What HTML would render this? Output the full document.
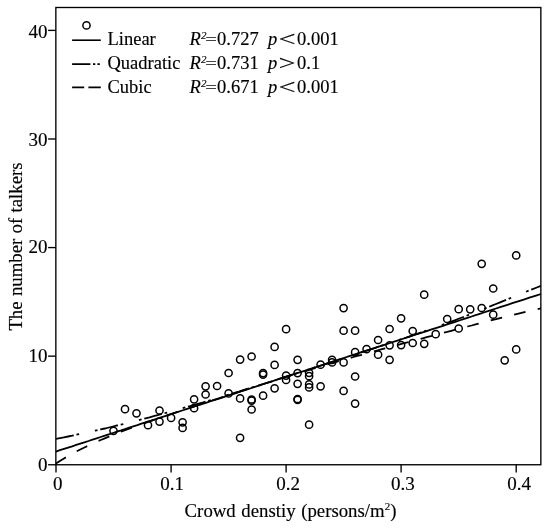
<!DOCTYPE html>
<html><head><meta charset="utf-8"><title>Crowd density vs talkers</title>
<style>html,body{margin:0;padding:0;background:#fff}svg{display:block}text{font-family:"Liberation Serif","Times New Roman",serif;fill:#000;stroke:#000;stroke-width:0.15px}</style></head><body>
<svg width="550" height="529" viewBox="0 0 550 529">
<rect width="550" height="529" fill="#fff"/>
<rect x="55.85" y="7.5" width="485.0" height="457.25" fill="none" stroke="#000" stroke-width="1.35"/>
<line x1="48.1" x2="55.85" y1="464.75" y2="464.75" stroke="#000" stroke-width="1.35"/>
<text x="47.4" y="471.2" font-size="19" text-anchor="end">0</text>
<line x1="48.1" x2="55.85" y1="356.16" y2="356.16" stroke="#000" stroke-width="1.35"/>
<text x="47.4" y="361.9" font-size="19" text-anchor="end">10</text>
<line x1="48.1" x2="55.85" y1="247.57" y2="247.57" stroke="#000" stroke-width="1.35"/>
<text x="47.4" y="252.5" font-size="19" text-anchor="end">20</text>
<line x1="48.1" x2="55.85" y1="138.98" y2="138.98" stroke="#000" stroke-width="1.35"/>
<text x="47.4" y="145.5" font-size="19" text-anchor="end">30</text>
<line x1="48.1" x2="55.85" y1="30.39" y2="30.39" stroke="#000" stroke-width="1.35"/>
<text x="47.4" y="37.6" font-size="19" text-anchor="end">40</text>
<line x1="56.0" x2="56.0" y1="464.75" y2="472.5" stroke="#000" stroke-width="1.35"/>
<text x="57.8" y="490.3" font-size="19" text-anchor="middle">0</text>
<line x1="171.1" x2="171.1" y1="464.75" y2="472.5" stroke="#000" stroke-width="1.35"/>
<text x="172" y="490.3" font-size="19" text-anchor="middle">0.1</text>
<line x1="286.1" x2="286.1" y1="464.75" y2="472.5" stroke="#000" stroke-width="1.35"/>
<text x="288" y="490.3" font-size="19" text-anchor="middle">0.2</text>
<line x1="401.1" x2="401.1" y1="464.75" y2="472.5" stroke="#000" stroke-width="1.35"/>
<text x="402.9" y="490.3" font-size="19" text-anchor="middle">0.3</text>
<line x1="516.2" x2="516.2" y1="464.75" y2="472.5" stroke="#000" stroke-width="1.35"/>
<text x="519" y="490.3" font-size="19" text-anchor="middle">0.4</text>
<text x="184.6" y="517.3" font-size="18.8" word-spacing="0.9">Crowd denstiy (persons/m<tspan font-size="11" dy="-7">2</tspan><tspan dy="7">)</tspan></text>
<text transform="translate(22,330.6) rotate(-90)" font-size="18.8" word-spacing="0.6">The number of talkers</text>
<path d="M55.9,451.6 L59.9,450.2 L64.0,448.9 L68.1,447.6 L72.2,446.3 L76.2,444.9 L80.3,443.6 L84.4,442.3 L88.5,441.0 L92.5,439.6 L96.6,438.3 L100.7,437.0 L104.8,435.7 L108.8,434.3 L112.9,433.0 L117.0,431.7 L121.1,430.4 L125.1,429.0 L129.2,427.7 L133.3,426.4 L137.4,425.1 L141.4,423.7 L145.5,422.4 L149.6,421.1 L153.7,419.8 L157.7,418.4 L161.8,417.1 L165.9,415.8 L170.0,414.5 L174.0,413.2 L178.1,411.8 L182.2,410.5 L186.3,409.2 L190.3,407.9 L194.4,406.5 L198.5,405.2 L202.6,403.9 L206.6,402.6 L210.7,401.2 L214.8,399.9 L218.9,398.6 L223.0,397.3 L227.0,395.9 L231.1,394.6 L235.2,393.3 L239.3,392.0 L243.3,390.6 L247.4,389.3 L251.5,388.0 L255.6,386.7 L259.6,385.3 L263.7,384.0 L267.8,382.7 L271.9,381.4 L275.9,380.0 L280.0,378.7 L284.1,377.4 L288.2,376.1 L292.2,374.7 L296.3,373.4 L300.4,372.1 L304.5,370.8 L308.5,369.5 L312.6,368.1 L316.7,366.8 L320.8,365.5 L324.8,364.2 L328.9,362.8 L333.0,361.5 L337.1,360.2 L341.1,358.9 L345.2,357.5 L349.3,356.2 L353.4,354.9 L357.4,353.6 L361.5,352.2 L365.6,350.9 L369.7,349.6 L373.7,348.3 L377.8,346.9 L381.9,345.6 L386.0,344.3 L390.1,343.0 L394.1,341.6 L398.2,340.3 L402.3,339.0 L406.4,337.7 L410.4,336.3 L414.5,335.0 L418.6,333.7 L422.7,332.4 L426.7,331.1 L430.8,329.7 L434.9,328.4 L439.0,327.1 L443.0,325.8 L447.1,324.4 L451.2,323.1 L455.3,321.8 L459.3,320.5 L463.4,319.1 L467.5,317.8 L471.6,316.5 L475.6,315.2 L479.7,313.8 L483.8,312.5 L487.9,311.2 L491.9,309.9 L496.0,308.5 L500.1,307.2 L504.2,305.9 L508.2,304.6 L512.3,303.2 L516.4,301.9 L520.5,300.6 L524.5,299.3 L528.6,297.9 L532.7,296.6 L536.8,295.3 L540.9,294.0" fill="none" stroke="#000" stroke-width="1.8"/>
<path d="M55.9,438.9 L59.9,438.1 L64.0,437.3 L68.1,436.5 L72.2,435.7 L76.2,434.8 L80.3,433.9 L84.4,433.1 L88.5,432.2 L92.5,431.3 L96.6,430.3 L100.7,429.4 L104.8,428.5 L108.8,427.5 L112.9,426.5 L117.0,425.5 L121.1,424.6 L125.1,423.5 L129.2,422.5 L133.3,421.5 L137.4,420.5 L141.4,419.4 L145.5,418.3 L149.6,417.3 L153.7,416.2 L157.7,415.1 L161.8,414.0 L165.9,412.9 L170.0,411.8 L174.0,410.6 L178.1,409.5 L182.2,408.3 L186.3,407.2 L190.3,406.0 L194.4,404.8 L198.5,403.7 L202.6,402.5 L206.6,401.3 L210.7,400.1 L214.8,398.9 L218.9,397.6 L223.0,396.4 L227.0,395.2 L231.1,394.0 L235.2,392.7 L239.3,391.5 L243.3,390.2 L247.4,388.9 L251.5,387.7 L255.6,386.4 L259.6,385.1 L263.7,383.9 L267.8,382.6 L271.9,381.3 L275.9,380.0 L280.0,378.7 L284.1,377.4 L288.2,376.1 L292.2,374.8 L296.3,373.5 L300.4,372.2 L304.5,370.9 L308.5,369.5 L312.6,368.2 L316.7,366.9 L320.8,365.6 L324.8,364.3 L328.9,362.9 L333.0,361.6 L337.1,360.3 L341.1,359.0 L345.2,357.6 L349.3,356.3 L353.4,355.0 L357.4,353.7 L361.5,352.3 L365.6,351.0 L369.7,349.7 L373.7,348.3 L377.8,347.0 L381.9,345.7 L386.0,344.3 L390.1,343.0 L394.1,341.6 L398.2,340.2 L402.3,338.9 L406.4,337.5 L410.4,336.1 L414.5,334.7 L418.6,333.3 L422.7,331.9 L426.7,330.5 L430.8,329.0 L434.9,327.6 L439.0,326.1 L443.0,324.6 L447.1,323.1 L451.2,321.6 L455.3,320.1 L459.3,318.5 L463.4,317.0 L467.5,315.4 L471.6,313.8 L475.6,312.2 L479.7,310.6 L483.8,308.9 L487.9,307.3 L491.9,305.6 L496.0,304.0 L500.1,302.3 L504.2,300.7 L508.2,299.0 L512.3,297.3 L516.4,295.7 L520.5,294.0 L524.5,292.4 L528.6,290.7 L532.7,289.1 L536.8,287.5 L540.9,285.9" fill="none" stroke="#000" stroke-width="1.8" stroke-dasharray="18.2 2.8 2.7 16.15 2.7 2.8"/>
<path d="M55.9,463.5 L59.9,460.9 L64.0,458.5 L68.1,456.1 L72.2,453.8 L76.2,451.6 L80.3,449.5 L84.4,447.5 L88.5,445.5 L92.5,443.6 L96.6,441.8 L100.7,440.0 L104.8,438.3 L108.8,436.6 L112.9,434.9 L117.0,433.3 L121.1,431.7 L125.1,430.2 L129.2,428.7 L133.3,427.2 L137.4,425.7 L141.4,424.2 L145.5,422.8 L149.6,421.3 L153.7,419.9 L157.7,418.5 L161.8,417.1 L165.9,415.8 L170.0,414.4 L174.0,413.0 L178.1,411.7 L182.2,410.3 L186.3,409.0 L190.3,407.6 L194.4,406.3 L198.5,404.9 L202.6,403.6 L206.6,402.3 L210.7,400.9 L214.8,399.6 L218.9,398.3 L223.0,396.9 L227.0,395.6 L231.1,394.3 L235.2,393.0 L239.3,391.7 L243.3,390.4 L247.4,389.1 L251.5,387.8 L255.6,386.5 L259.6,385.2 L263.7,383.9 L267.8,382.6 L271.9,381.3 L275.9,380.0 L280.0,378.8 L284.1,377.5 L288.2,376.2 L292.2,375.0 L296.3,373.8 L300.4,372.5 L304.5,371.3 L308.5,370.1 L312.6,368.8 L316.7,367.6 L320.8,366.4 L324.8,365.2 L328.9,364.0 L333.0,362.9 L337.1,361.7 L341.1,360.5 L345.2,359.3 L349.3,358.2 L353.4,357.0 L357.4,355.9 L361.5,354.8 L365.6,353.6 L369.7,352.5 L373.7,351.4 L377.8,350.3 L381.9,349.2 L386.0,348.1 L390.1,347.0 L394.1,345.9 L398.2,344.8 L402.3,343.7 L406.4,342.6 L410.4,341.5 L414.5,340.5 L418.6,339.4 L422.7,338.3 L426.7,337.2 L430.8,336.2 L434.9,335.1 L439.0,334.0 L443.0,332.9 L447.1,331.9 L451.2,330.8 L455.3,329.7 L459.3,328.7 L463.4,327.6 L467.5,326.5 L471.6,325.5 L475.6,324.4 L479.7,323.4 L483.8,322.3 L487.9,321.2 L491.9,320.2 L496.0,319.2 L500.1,318.1 L504.2,317.1 L508.2,316.1 L512.3,315.1 L516.4,314.1 L520.5,313.1 L524.5,312.1 L528.6,311.1 L532.7,310.2 L536.8,309.3 L540.9,308.4" fill="none" stroke="#000" stroke-width="1.8" stroke-dasharray="11.7 12.45"/>
<circle cx="113.5" cy="430.8" r="3.6" fill="none" stroke="#000" stroke-width="1.5"/>
<circle cx="125.0" cy="409.2" r="3.6" fill="none" stroke="#000" stroke-width="1.5"/>
<circle cx="136.5" cy="413.3" r="3.6" fill="none" stroke="#000" stroke-width="1.5"/>
<circle cx="148.0" cy="425.2" r="3.6" fill="none" stroke="#000" stroke-width="1.5"/>
<circle cx="159.5" cy="410.5" r="3.6" fill="none" stroke="#000" stroke-width="1.5"/>
<circle cx="159.5" cy="421.6" r="3.6" fill="none" stroke="#000" stroke-width="1.5"/>
<circle cx="171.1" cy="417.9" r="3.6" fill="none" stroke="#000" stroke-width="1.5"/>
<circle cx="182.6" cy="422.3" r="3.6" fill="none" stroke="#000" stroke-width="1.5"/>
<circle cx="182.6" cy="427.9" r="3.6" fill="none" stroke="#000" stroke-width="1.5"/>
<circle cx="194.1" cy="399.3" r="3.6" fill="none" stroke="#000" stroke-width="1.5"/>
<circle cx="194.1" cy="408.2" r="3.6" fill="none" stroke="#000" stroke-width="1.5"/>
<circle cx="205.6" cy="386.3" r="3.6" fill="none" stroke="#000" stroke-width="1.5"/>
<circle cx="205.6" cy="394.5" r="3.6" fill="none" stroke="#000" stroke-width="1.5"/>
<circle cx="217.1" cy="386.0" r="3.6" fill="none" stroke="#000" stroke-width="1.5"/>
<circle cx="228.6" cy="373.0" r="3.6" fill="none" stroke="#000" stroke-width="1.5"/>
<circle cx="228.6" cy="393.4" r="3.6" fill="none" stroke="#000" stroke-width="1.5"/>
<circle cx="240.1" cy="359.6" r="3.6" fill="none" stroke="#000" stroke-width="1.5"/>
<circle cx="240.1" cy="398.4" r="3.6" fill="none" stroke="#000" stroke-width="1.5"/>
<circle cx="240.1" cy="437.8" r="3.6" fill="none" stroke="#000" stroke-width="1.5"/>
<circle cx="251.6" cy="356.5" r="3.6" fill="none" stroke="#000" stroke-width="1.5"/>
<circle cx="251.6" cy="399.5" r="3.6" fill="none" stroke="#000" stroke-width="1.5"/>
<circle cx="251.6" cy="400.6" r="3.6" fill="none" stroke="#000" stroke-width="1.5"/>
<circle cx="251.6" cy="409.5" r="3.6" fill="none" stroke="#000" stroke-width="1.5"/>
<circle cx="263.1" cy="373.1" r="3.6" fill="none" stroke="#000" stroke-width="1.5"/>
<circle cx="263.1" cy="374.6" r="3.6" fill="none" stroke="#000" stroke-width="1.5"/>
<circle cx="263.1" cy="395.7" r="3.6" fill="none" stroke="#000" stroke-width="1.5"/>
<circle cx="274.6" cy="346.9" r="3.6" fill="none" stroke="#000" stroke-width="1.5"/>
<circle cx="274.6" cy="364.9" r="3.6" fill="none" stroke="#000" stroke-width="1.5"/>
<circle cx="274.6" cy="388.3" r="3.6" fill="none" stroke="#000" stroke-width="1.5"/>
<circle cx="286.1" cy="329.2" r="3.6" fill="none" stroke="#000" stroke-width="1.5"/>
<circle cx="286.1" cy="375.6" r="3.6" fill="none" stroke="#000" stroke-width="1.5"/>
<circle cx="286.1" cy="380.0" r="3.6" fill="none" stroke="#000" stroke-width="1.5"/>
<circle cx="297.6" cy="359.8" r="3.6" fill="none" stroke="#000" stroke-width="1.5"/>
<circle cx="297.6" cy="373.1" r="3.6" fill="none" stroke="#000" stroke-width="1.5"/>
<circle cx="297.6" cy="383.8" r="3.6" fill="none" stroke="#000" stroke-width="1.5"/>
<circle cx="297.6" cy="399.0" r="3.6" fill="none" stroke="#000" stroke-width="1.5"/>
<circle cx="297.6" cy="399.8" r="3.6" fill="none" stroke="#000" stroke-width="1.5"/>
<circle cx="309.1" cy="372.8" r="3.6" fill="none" stroke="#000" stroke-width="1.5"/>
<circle cx="309.1" cy="376.2" r="3.6" fill="none" stroke="#000" stroke-width="1.5"/>
<circle cx="309.1" cy="384.4" r="3.6" fill="none" stroke="#000" stroke-width="1.5"/>
<circle cx="309.1" cy="387.4" r="3.6" fill="none" stroke="#000" stroke-width="1.5"/>
<circle cx="309.1" cy="424.7" r="3.6" fill="none" stroke="#000" stroke-width="1.5"/>
<circle cx="320.6" cy="364.7" r="3.6" fill="none" stroke="#000" stroke-width="1.5"/>
<circle cx="320.6" cy="386.3" r="3.6" fill="none" stroke="#000" stroke-width="1.5"/>
<circle cx="332.1" cy="359.8" r="3.6" fill="none" stroke="#000" stroke-width="1.5"/>
<circle cx="332.1" cy="362.4" r="3.6" fill="none" stroke="#000" stroke-width="1.5"/>
<circle cx="343.6" cy="308.1" r="3.6" fill="none" stroke="#000" stroke-width="1.5"/>
<circle cx="343.6" cy="330.7" r="3.6" fill="none" stroke="#000" stroke-width="1.5"/>
<circle cx="343.6" cy="362.4" r="3.6" fill="none" stroke="#000" stroke-width="1.5"/>
<circle cx="343.6" cy="390.9" r="3.6" fill="none" stroke="#000" stroke-width="1.5"/>
<circle cx="355.1" cy="330.7" r="3.6" fill="none" stroke="#000" stroke-width="1.5"/>
<circle cx="355.1" cy="352.2" r="3.6" fill="none" stroke="#000" stroke-width="1.5"/>
<circle cx="355.1" cy="376.5" r="3.6" fill="none" stroke="#000" stroke-width="1.5"/>
<circle cx="355.1" cy="403.6" r="3.6" fill="none" stroke="#000" stroke-width="1.5"/>
<circle cx="366.6" cy="349.1" r="3.6" fill="none" stroke="#000" stroke-width="1.5"/>
<circle cx="378.1" cy="340.0" r="3.6" fill="none" stroke="#000" stroke-width="1.5"/>
<circle cx="378.1" cy="354.7" r="3.6" fill="none" stroke="#000" stroke-width="1.5"/>
<circle cx="389.6" cy="329.0" r="3.6" fill="none" stroke="#000" stroke-width="1.5"/>
<circle cx="389.6" cy="345.3" r="3.6" fill="none" stroke="#000" stroke-width="1.5"/>
<circle cx="389.6" cy="359.8" r="3.6" fill="none" stroke="#000" stroke-width="1.5"/>
<circle cx="401.1" cy="318.3" r="3.6" fill="none" stroke="#000" stroke-width="1.5"/>
<circle cx="401.1" cy="345.1" r="3.6" fill="none" stroke="#000" stroke-width="1.5"/>
<circle cx="412.7" cy="331.0" r="3.6" fill="none" stroke="#000" stroke-width="1.5"/>
<circle cx="412.7" cy="343.0" r="3.6" fill="none" stroke="#000" stroke-width="1.5"/>
<circle cx="424.2" cy="294.7" r="3.6" fill="none" stroke="#000" stroke-width="1.5"/>
<circle cx="424.2" cy="343.8" r="3.6" fill="none" stroke="#000" stroke-width="1.5"/>
<circle cx="435.7" cy="334.2" r="3.6" fill="none" stroke="#000" stroke-width="1.5"/>
<circle cx="447.2" cy="319.0" r="3.6" fill="none" stroke="#000" stroke-width="1.5"/>
<circle cx="458.7" cy="309.2" r="3.6" fill="none" stroke="#000" stroke-width="1.5"/>
<circle cx="458.7" cy="328.5" r="3.6" fill="none" stroke="#000" stroke-width="1.5"/>
<circle cx="470.2" cy="309.3" r="3.6" fill="none" stroke="#000" stroke-width="1.5"/>
<circle cx="481.7" cy="263.8" r="3.6" fill="none" stroke="#000" stroke-width="1.5"/>
<circle cx="481.7" cy="308.0" r="3.6" fill="none" stroke="#000" stroke-width="1.5"/>
<circle cx="493.2" cy="288.5" r="3.6" fill="none" stroke="#000" stroke-width="1.5"/>
<circle cx="493.2" cy="314.7" r="3.6" fill="none" stroke="#000" stroke-width="1.5"/>
<circle cx="504.7" cy="360.3" r="3.6" fill="none" stroke="#000" stroke-width="1.5"/>
<circle cx="516.2" cy="255.4" r="3.6" fill="none" stroke="#000" stroke-width="1.5"/>
<circle cx="516.2" cy="349.4" r="3.6" fill="none" stroke="#000" stroke-width="1.5"/>
<circle cx="86.5" cy="25.4" r="3.6" fill="none" stroke="#000" stroke-width="1.5"/>
<line x1="72.1" x2="100.8" y1="40.2" y2="40.2" stroke="#000" stroke-width="1.6"/>
<path d="M72.1,64.1 H90.4 M93,64.1 h2.3 M97.4,64.1 h2.4" stroke="#000" stroke-width="1.6"/>
<path d="M72.1,87.4 H84.2 M88.4,87.4 H100.8" stroke="#000" stroke-width="1.6"/>
<text x="107.5" y="45" font-size="18.5">Linear</text>
<text x="189.6" y="45" font-size="18.5" font-style="italic">R<tspan font-size="11" dx="0.2" dy="-6.4">2</tspan></text>
<text transform="translate(205.35,43.7) scale(1.115,0.8)" font-size="18.5">=</text>
<text x="217" y="45" font-size="18.5">0.727</text>
<text x="268" y="45" font-size="18.5" font-style="italic">p</text>
<text transform="translate(278.5,45.7) scale(1.46,1)" font-size="20.8">&lt;</text>
<text x="297" y="45" font-size="18.5">0.001</text>
<text x="107.5" y="69" font-size="18.5">Quadratic</text>
<text x="189.6" y="69" font-size="18.5" font-style="italic">R<tspan font-size="11" dx="0.2" dy="-6.4">2</tspan></text>
<text transform="translate(205.35,67.7) scale(1.115,0.8)" font-size="18.5">=</text>
<text x="217" y="69" font-size="18.5">0.731</text>
<text x="268" y="69" font-size="18.5" font-style="italic">p</text>
<text transform="translate(278.5,69.7) scale(1.46,1)" font-size="20.8">&gt;</text>
<text x="297" y="69" font-size="18.5">0.1</text>
<text x="107.5" y="93.2" font-size="18.5">Cubic</text>
<text x="189.6" y="93.2" font-size="18.5" font-style="italic">R<tspan font-size="11" dx="0.2" dy="-6.4">2</tspan></text>
<text transform="translate(205.35,91.9) scale(1.115,0.8)" font-size="18.5">=</text>
<text x="217" y="93.2" font-size="18.5">0.671</text>
<text x="268" y="93.2" font-size="18.5" font-style="italic">p</text>
<text transform="translate(278.5,93.9) scale(1.46,1)" font-size="20.8">&lt;</text>
<text x="297" y="93.2" font-size="18.5">0.001</text>
</svg></body></html>
